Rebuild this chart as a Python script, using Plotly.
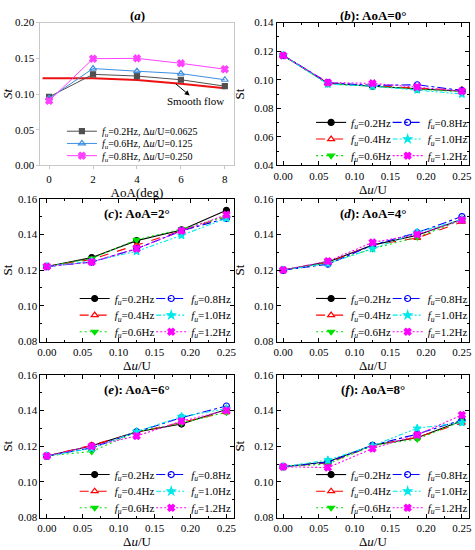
import plotly.graph_objects as go
from plotly.subplots import make_subplots

# ---- data ----
aoa = [0, 2, 4, 6, 8]
st_a_02 = [0.096, 0.1276, 0.1252, 0.120, 0.111]
st_a_06 = [0.094, 0.1357, 0.132, 0.1286, 0.120]
st_a_08 = [0.0905, 0.1495, 0.150, 0.143, 0.1348]
smooth_aoa = [-0.3, 2, 4, 6, 8]
smooth_st = [0.122, 0.122, 0.1195, 0.1143, 0.108]

du = [0, 0.0625, 0.125, 0.1875, 0.25]
freqs = ["0.2", "0.4", "0.6", "0.8", "1.0", "1.2"]

# rows follow freqs
st_aoa0 = [[0.117, 0.0975, 0.0955, 0.0935, 0.092],
           [0.117, 0.0975, 0.096, 0.094, 0.093],
           [0.117, 0.097, 0.0955, 0.0935, 0.0915],
           [0.117, 0.098, 0.096, 0.0965, 0.0925],
           [0.117, 0.097, 0.0955, 0.093, 0.090],
           [0.117, 0.098, 0.0975, 0.095, 0.092]]
st_aoa2 = [[0.122, 0.127, 0.1365, 0.1425, 0.1535],
           [0.122, 0.126, 0.134, 0.142, 0.150],
           [0.122, 0.1265, 0.137, 0.143, 0.150],
           [0.122, 0.1245, 0.132, 0.142, 0.149],
           [0.122, 0.125, 0.1305, 0.1395, 0.149],
           [0.122, 0.1245, 0.132, 0.142, 0.151]]
st_aoa4 = [[0.120, 0.1246, 0.134, 0.1395, 0.1485],
           [0.120, 0.1242, 0.134, 0.138, 0.147],
           [0.120, 0.124, 0.132, 0.1385, 0.148],
           [0.120, 0.1233, 0.134, 0.141, 0.150],
           [0.120, 0.1238, 0.132, 0.1411, 0.1483],
           [0.120, 0.125, 0.1355, 0.140, 0.148]]
st_aoa6 = [[0.1145, 0.1202, 0.128, 0.1324, 0.1406],
           [0.1145, 0.1205, 0.1277, 0.1335, 0.139],
           [0.1145, 0.117, 0.128, 0.133, 0.139],
           [0.1145, 0.119, 0.128, 0.136, 0.1425],
           [0.1145, 0.1188, 0.1282, 0.1365, 0.141],
           [0.1145, 0.120, 0.1257, 0.134, 0.140]]
st_aoa8 = [[0.1085, 0.1113, 0.1205, 0.1247, 0.1343],
           [0.1085, 0.1106, 0.1203, 0.125, 0.133],
           [0.1085, 0.110, 0.1203, 0.124, 0.134],
           [0.1085, 0.111, 0.1205, 0.1268, 0.1347],
           [0.1085, 0.1122, 0.1203, 0.130, 0.1332],
           [0.1085, 0.108, 0.1187, 0.1263, 0.1375]]

panels = [("b", "0", st_aoa0), ("c", "2", st_aoa2), ("d", "4", st_aoa4),
          ("e", "6", st_aoa6), ("f", "8", st_aoa8)]

# ---- styles ----
W, H = 475, 550
FONT = "Liberation Serif"
colors = ["black", "#ff0000", "#00e000", "#0000ff", "#00e8e8", "#ff00ff"]
dashes = ["solid", "dash", "2px,3px", "dashdot", "5px,2px,2px,2px,2px,2px", "2px,2px"]
symbols = ["circle", "triangle-up-open", "triangle-down", "circle-open", "star", "x"]

# panel boxes in pixels: (left, right), (top, bottom)
cols_px = [(35, 232), (276, 472)]
rows_px = [(17, 163), (197, 343), (377, 523)]


def px_x(p):
    return p / W


def px_y(p):
    return 1 - p / H


fig = make_subplots(rows=3, cols=2)
legends = {}
nleg = [0]


def new_legend(x, y, size):
    nleg[0] += 1
    name = "legend" if nleg[0] == 1 else f"legend{nleg[0]}"
    legends[name] = dict(x=px_x(x), y=px_y(y), xanchor="left", yanchor="middle",
                         bgcolor="rgba(0,0,0,0)", borderwidth=0, itemwidth=30,
                         font=dict(family=FONT, size=size, color="black"))
    return name


# ---- panel (a) ----
a_series = [(st_a_02, "#505050", "square", "0.2", "0.0625"),
            (st_a_06, "#3d8fe0", "triangle-up-open", "0.6", "0.125"),
            (st_a_08, "#ff40ff", "x", "0.8", "0.250")]
fig.add_trace(go.Scatter(x=smooth_aoa, y=smooth_st, mode="lines",
                         line=dict(color="#ee1111", width=2), showlegend=False),
              row=1, col=1)
for k, (ys, c, sym, f, d) in enumerate(a_series):
    lg = new_legend(57, 128 + k * 12.5, 10)
    fig.add_trace(go.Scatter(
        x=aoa, y=ys, mode="lines+markers", legend=lg,
        name="<i>f</i><sub><i>u</i></sub>=%sHz, Δ<i>u</i>/U=%s" % (f, d),
        line=dict(color=c, width=1),
        marker=dict(symbol=sym, size=5 if sym == "square" else 6, color=c,
                    line=dict(color=c, width=1.2))), row=1, col=1)

# ---- panels (b)-(f) ----
for p, (letter, ang, data) in enumerate(panels):
    idx = p + 1
    r, c = idx // 2, idx % 2
    left, right = cols_px[c]
    top, bottom = rows_px[r]
    for i, f in enumerate(freqs):
        col_i, row_i = i // 3, i % 3
        lg = new_legend(left + (35 if col_i == 0 else 113), top + 102 + row_i * 17, 11)
        fig.add_trace(go.Scatter(
            x=du, y=data[i], mode="lines+markers", legend=lg,
            name="<i>f</i><sub><i>u</i></sub>=%sHz" % f,
            line=dict(color=colors[i], width=1.1, dash=dashes[i]),
            marker=dict(symbol=symbols[i], size=6, color=colors[i],
                        line=dict(color=colors[i], width=1.2))), row=r + 1, col=c + 1)

# ---- axes ----
axis_names = [("xaxis", "yaxis"), ("xaxis2", "yaxis2"), ("xaxis3", "yaxis3"),
              ("xaxis4", "yaxis4"), ("xaxis5", "yaxis5"), ("xaxis6", "yaxis6")]
tickfont = dict(family=FONT, size=11, color="black")
titlefont = dict(family=FONT, size=13, color="black")
layout = {}
for k, (xa, ya) in enumerate(axis_names):
    r, c = k // 2, k % 2
    left, right = cols_px[c]
    top, bottom = rows_px[r]
    xd = [px_x(left), px_x(right)]
    yd = [px_y(bottom), px_y(top)]
    if k == 0:
        layout[xa] = dict(domain=xd, range=[-0.4, 8.4], dtick=2, showgrid=False,
                          zeroline=False, showline=True, linecolor="#c8c8c8", mirror=True,
                          ticks="outside", ticklen=3, tickcolor="#c8c8c8",
                          tickfont=tickfont, title=dict(text="AoA(deg)", font=titlefont, standoff=4))
        layout[ya] = dict(domain=yd, range=[0, 0.2], dtick=0.05, tickformat=".2f",
                          showgrid=False, zeroline=False, showline=True, linecolor="#c8c8c8",
                          mirror=True, ticks="outside", ticklen=3, tickcolor="#c8c8c8",
                          tickfont=tickfont, title=dict(text="<i>St</i>", font=titlefont, standoff=6))
    else:
        yr = [0.04, 0.14] if k == 1 else [0.08, 0.16]
        layout[xa] = dict(domain=xd, range=[-0.009, 0.26], dtick=0.05, tick0=0,
                          tickformat=".2f", showgrid=False, zeroline=False, showline=True,
                          linecolor="black", linewidth=1, mirror="ticks", ticks="inside",
                          ticklen=4, tickcolor="black",
                          minor=dict(dtick=0.025, tick0=0, ticks="inside", ticklen=2, tickcolor="black"),
                          tickfont=tickfont,
                          title=dict(text="Δ<i>u</i>/U", font=titlefont, standoff=3))
        layout[ya] = dict(domain=yd, range=yr, dtick=0.02, tick0=0, tickformat=".2f",
                          showgrid=False, zeroline=False, showline=True, linecolor="black",
                          linewidth=1, mirror="ticks", ticks="inside", ticklen=4,
                          tickcolor="black",
                          minor=dict(dtick=0.01, tick0=0, ticks="inside", ticklen=2, tickcolor="black"),
                          tickfont=tickfont,
                          title=dict(text="St", font=titlefont, standoff=6))

# ---- titles & annotation ----
title_font = dict(family=FONT, size=13, color="black")
ann = [dict(text="<b>(<i>a</i>)</b>", x=px_x(134), y=px_y(10), xref="paper", yref="paper",
            xanchor="center", yanchor="middle", showarrow=False, font=title_font),
       dict(text="<b>(<i>b</i>): AoA=0°</b>", x=px_x(374), y=px_y(10), xref="paper", yref="paper",
            xanchor="center", yanchor="middle", showarrow=False, font=title_font),
       dict(text="Smooth flow", x=6.66, y=0.090, xref="x", yref="y", showarrow=False,
            font=dict(family=FONT, size=11, color="black")),
       dict(text="", x=6.4, y=0.098, ax=5.7, ay=0.116, xref="x", yref="y", axref="x", ayref="y",
            showarrow=True, arrowhead=2, arrowsize=1, arrowwidth=1, arrowcolor="black")]
for p, (letter, ang, data) in enumerate(panels[1:]):
    idx = p + 2
    r, c = idx // 2, idx % 2
    left, right = cols_px[c]
    top, bottom = rows_px[r]
    ann.append(dict(text="<b>(<i>%s</i>): AoA=%s°</b>" % (letter, ang),
                    x=px_x((left + right) / 2), y=px_y(top + 15), xref="paper", yref="paper",
                    xanchor="center", yanchor="middle", showarrow=False, font=title_font))

fig.update_layout(width=W, height=H, margin=dict(l=0, r=0, t=0, b=0),
                  paper_bgcolor="white", plot_bgcolor="white",
                  font=dict(family=FONT, color="black"),
                  annotations=ann, **layout, **legends)

# the page body has a default 8px margin; drop it so the 475x550 figure fills the window
fig.write_html("out.html", config={"displayModeBar": False},
               post_script="document.body.style.margin='0';document.body.style.overflow='hidden';")
